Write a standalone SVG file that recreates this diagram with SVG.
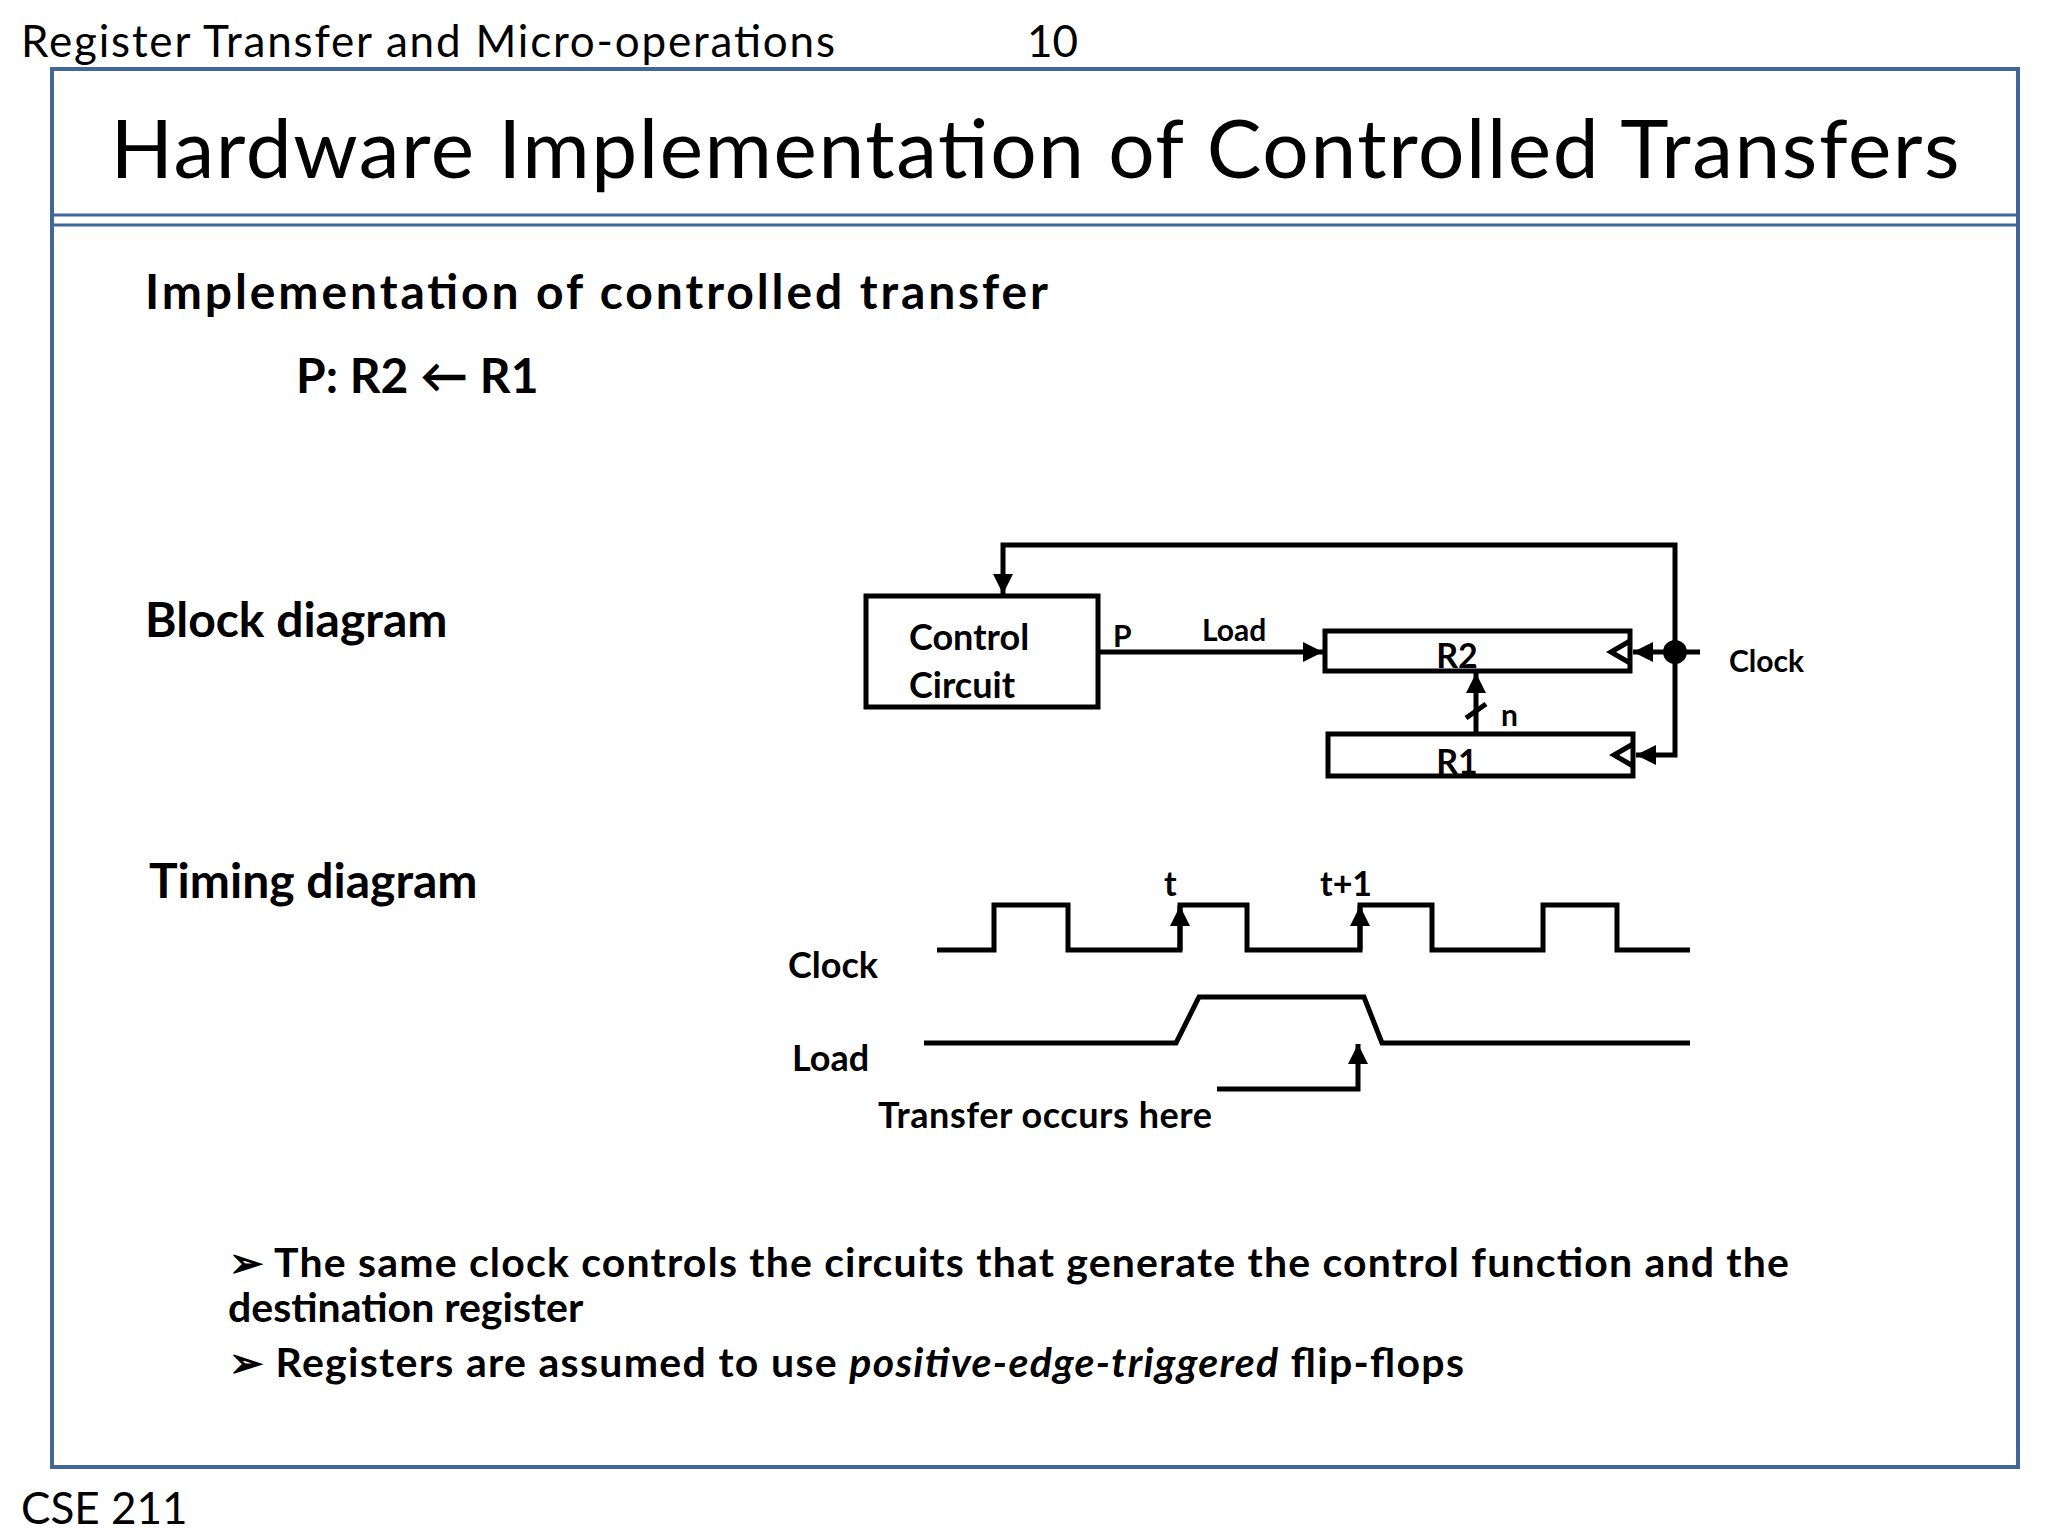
<svg xmlns="http://www.w3.org/2000/svg" width="2048" height="1536" viewBox="0 0 2048 1536">
<defs>
<style>
text{font-family:Lato,"Open Sans","Liberation Sans",sans-serif;fill:#000}
.b{font-weight:bold}
.w{fill:none;stroke:#000;stroke-width:5}
.f{fill:none;stroke:#41679a}
</style>
<marker id="ah" viewBox="0 0 10 10" refX="10" refY="5" markerWidth="4" markerHeight="4" orient="auto"><path d="M0,0L10,5L0,10z" fill="#000"/></marker>
</defs>
<rect width="2048" height="1536" fill="#fff"/>
<text x="21" y="57" font-size="44" textLength="814">Register Transfer and Micro-operations</text>
<text x="1027" y="57" font-size="44">10</text>
<rect x="52" y="69" width="1966" height="1398" class="f" stroke-width="4"/>
<text x="1035" y="178" font-size="82" text-anchor="middle" textLength="1849">Hardware Implementation of Controlled Transfers</text>
<line x1="52" y1="215" x2="2018" y2="215" class="f" stroke-width="3"/>
<line x1="52" y1="225" x2="2018" y2="225" class="f" stroke-width="3"/>
<text x="145" y="309" font-size="48" class="b" textLength="903">Implementation of controlled transfer</text>
<text x="296" y="393" font-size="48" class="b">P:  R2 ← R1</text>
<text x="145" y="637" font-size="48" class="b">Block diagram</text>
<text x="149" y="898" font-size="48" class="b">Timing diagram</text>

<g id="control"><rect x="866" y="596" width="232" height="111" class="w"/>
<text x="909" y="650" font-size="36" class="b">Control</text><text x="909" y="698" font-size="36" class="b">Circuit</text></g>
<g id="r2"><rect x="1325" y="631" width="305" height="40" class="w"/><path d="M1630,641L1611,652L1630,663" class="w" stroke-width="4"/>
<text x="1457" y="668" font-size="34" class="b" text-anchor="middle">R2</text></g>
<g id="r1"><rect x="1328" y="734" width="305" height="42" class="w"/><path d="M1633,744L1614,755L1633,766" class="w" stroke-width="4"/>
<text x="1457" y="774" font-size="34" class="b" text-anchor="middle">R1</text></g>
<g id="labels">
<text x="1113" y="647" font-size="30" class="b">P</text>
<text x="1202" y="641" font-size="30" class="b">Load</text>
<text x="1729" y="672" font-size="30" class="b">Clock</text>
<text x="1501" y="726" font-size="30" class="b">n</text>
</g>
<g id="connectors">
<path d="M1675,652V545H1003V594" class="w" marker-end="url(#ah)"/>
<path d="M1098,652H1323" class="w" marker-end="url(#ah)"/>
<path d="M1700,652H1633" class="w" marker-end="url(#ah)"/>
<path d="M1675,652V755H1636" class="w" marker-end="url(#ah)"/>
<circle cx="1675" cy="652" r="12"/>
<path d="M1476,734V673" class="w" marker-end="url(#ah)"/>
<line x1="1466" y1="718" x2="1486" y2="704" class="w"/>
</g>

<g id="timing">
<text x="788" y="978" font-size="36" class="b">Clock</text>
<text x="792" y="1071" font-size="36" class="b">Load</text>
<text x="1164" y="896" font-size="34" class="b">t</text>
<text x="1320" y="896" font-size="34" class="b">t+1</text>
<path d="M937,950H994V905H1068V950H1180V905H1247V950H1360V905H1432V950H1543V905H1617V950H1690" class="w"/>
<path d="M1180,950V906" class="w" marker-end="url(#ah)"/>
<path d="M1360,950V906" class="w" marker-end="url(#ah)"/>
<path d="M924,1043H1176L1199,997H1364L1382,1043H1690" class="w"/>
<path d="M1217,1089H1358V1044" class="w" marker-end="url(#ah)"/>
<text x="878" y="1128" font-size="36" class="b" textLength="334">Transfer occurs here</text>
</g>

<text x="229" y="1277" font-size="41" class="b" textLength="1560">➢ The same clock controls the circuits that generate the control function and the</text>
<text x="228" y="1322" font-size="41" class="b">destination register</text>
<text x="229" y="1377" font-size="41" class="b" textLength="1235">➢ Registers are assumed to use <tspan font-style="italic">positive-edge-triggered</tspan> flip-flops</text>
<text x="21" y="1524" font-size="44">CSE 211</text>
</svg>
